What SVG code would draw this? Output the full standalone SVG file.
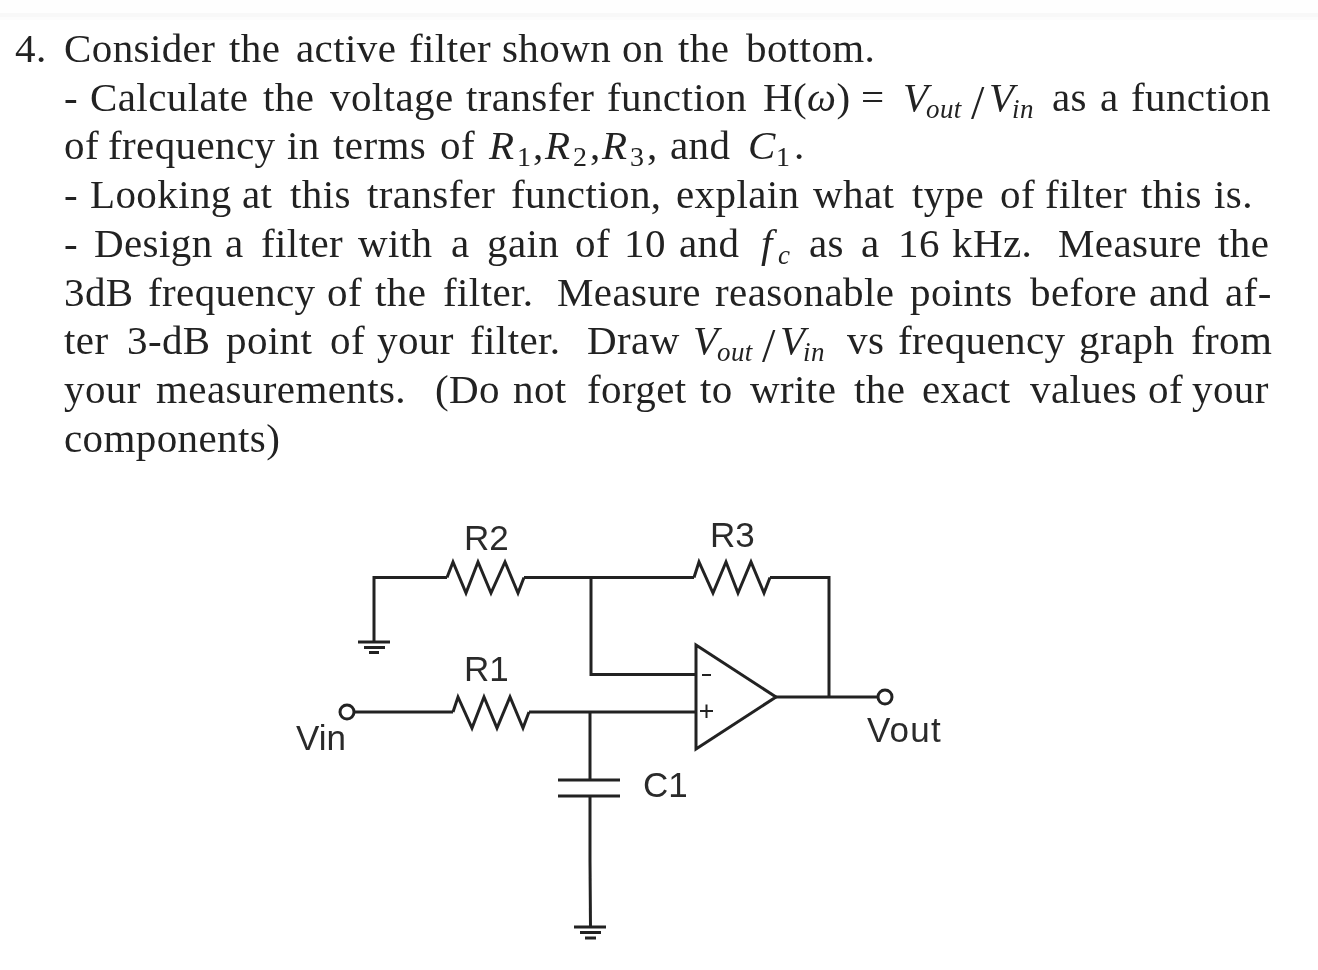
<svg xmlns="http://www.w3.org/2000/svg" width="1318" height="970" viewBox="0 0 1318 970">
<defs>
<style>
.t{font-family:"Liberation Serif","Times New Roman",serif;font-size:41px;fill:#222;letter-spacing:.4px}
.i{font-style:italic}
.s{font-size:27px;font-style:italic}
.n{font-size:28px}
.v{font-size:48px}
.l{font-family:"Liberation Sans",Arial,sans-serif;font-size:35px;fill:#2a2a2a}
.w{fill:none;stroke:#222;stroke-width:3;stroke-linejoin:miter}
.p{fill:none;stroke:#222;stroke-width:2}
.o{fill:#fff;stroke:#222;stroke-width:3}
</style>
<filter id="b" x="-2%" y="-2%" width="104%" height="104%"><feGaussianBlur stdDeviation="0.6"/></filter>
</defs>
<rect width="1318" height="970" fill="#fff"/>
<rect y="0" width="1318" height="13" fill="#fefefe"/>
<rect y="13" width="1318" height="4" fill="#f8f8f8"/>
<rect y="17" width="1318" height="3" fill="#fcfcfc"/>
<g filter="url(#b)">
<g id="problem-text">
<text class="t" y="62"><tspan x="15">4. </tspan><tspan x="64">Consider </tspan><tspan x="229">the </tspan><tspan x="296">active </tspan><tspan x="409">filter </tspan><tspan x="502">shown </tspan><tspan x="622">on </tspan><tspan x="678">the </tspan><tspan x="746">bottom.</tspan></text>
<text class="t" y="110.7"><tspan x="64">- </tspan><tspan x="90">Calculate </tspan><tspan x="263">the </tspan><tspan x="330">voltage </tspan><tspan x="466">transfer </tspan><tspan x="607">function </tspan><tspan x="763">H(</tspan><tspan class="i">ω</tspan><tspan>) </tspan><tspan x="861">= </tspan><tspan x="903" class="i">V</tspan><tspan x="926" class="s" dy="7">out</tspan><tspan x="971" class="v" dy="1">/</tspan><tspan x="989" class="i" dy="-8">V</tspan><tspan x="1012" class="s" dy="7">in</tspan><tspan x="1052" dy="-7">as </tspan><tspan x="1100">a </tspan><tspan x="1131">function</tspan></text>
<text class="t" y="159.4"><tspan x="64">of </tspan><tspan x="108">frequency </tspan><tspan x="287">in </tspan><tspan x="333">terms </tspan><tspan x="440">of </tspan><tspan x="489" class="i">R</tspan><tspan x="517" class="n" dy="7">1</tspan><tspan x="533" dy="-7">,</tspan><tspan x="545" class="i">R</tspan><tspan x="573" class="n" dy="7">2</tspan><tspan x="590" dy="-7">,</tspan><tspan x="602" class="i">R</tspan><tspan x="630" class="n" dy="7">3</tspan><tspan x="647" dy="-7">, </tspan><tspan x="670">and </tspan><tspan x="748" class="i">C</tspan><tspan x="776" class="n" dy="7">1</tspan><tspan x="794" dy="-7">.</tspan></text>
<text class="t" y="208"><tspan x="64">- </tspan><tspan x="90">Looking </tspan><tspan x="242">at </tspan><tspan x="290">this </tspan><tspan x="367">transfer </tspan><tspan x="511">function, </tspan><tspan x="676">explain </tspan><tspan x="813">what </tspan><tspan x="912">type </tspan><tspan x="1000">of </tspan><tspan x="1045">filter </tspan><tspan x="1141">this </tspan><tspan x="1214">is.</tspan></text>
<text class="t" y="256.8"><tspan x="64">- </tspan><tspan x="94">Design </tspan><tspan x="225">a </tspan><tspan x="261">filter </tspan><tspan x="358">with </tspan><tspan x="451">a </tspan><tspan x="487">gain </tspan><tspan x="575">of </tspan><tspan x="624">10 </tspan><tspan x="679">and </tspan><tspan x="761" class="i">f</tspan><tspan x="778" class="s" dy="7">c</tspan><tspan x="809" dy="-7">as </tspan><tspan x="861">a </tspan><tspan x="898">16 </tspan><tspan x="952">kHz. </tspan><tspan x="1058">Measure </tspan><tspan x="1218">the</tspan></text>
<text class="t" y="305.5"><tspan x="64">3dB </tspan><tspan x="148">frequency </tspan><tspan x="327">of </tspan><tspan x="375">the </tspan><tspan x="443">filter. </tspan><tspan x="557">Measure </tspan><tspan x="715">reasonable </tspan><tspan x="910">points </tspan><tspan x="1030">before </tspan><tspan x="1149">and </tspan><tspan x="1225">af-</tspan></text>
<text class="t" y="354"><tspan x="64">ter </tspan><tspan x="127">3-dB </tspan><tspan x="226">point </tspan><tspan x="330">of </tspan><tspan x="377">your </tspan><tspan x="470">filter. </tspan><tspan x="587">Draw </tspan><tspan x="693" class="i">V</tspan><tspan x="717" class="s" dy="7">out</tspan><tspan x="762" class="v" dy="1">/</tspan><tspan x="780" class="i" dy="-8">V</tspan><tspan x="803" class="s" dy="7">in</tspan><tspan x="847" dy="-7">vs </tspan><tspan x="898">frequency </tspan><tspan x="1079">graph </tspan><tspan x="1191">from</tspan></text>
<text class="t" y="403"><tspan x="64">your </tspan><tspan x="156">measurements. </tspan><tspan x="435">(Do </tspan><tspan x="513">not </tspan><tspan x="587">forget </tspan><tspan x="700">to </tspan><tspan x="750">write </tspan><tspan x="854">the </tspan><tspan x="922">exact </tspan><tspan x="1030">values </tspan><tspan x="1148">of </tspan><tspan x="1192">your</tspan></text>
<text class="t" x="64" y="451.7">components)</text>
</g>
<g id="connectors">
<path class="w" d="M374 642V577.5H447"/>
<path class="w" d="M524 577.5H694"/>
<path class="w" d="M770 577.5H829V697"/>
<path class="w" d="M591 577.5V674.5H696"/>
<path class="w" d="M354 712H453"/>
<path class="w" d="M529 712H696"/>
<path class="w" d="M590 712V780"/>
<path class="w" d="M590 796V861L590.500 927"/>
<path class="w" d="M776 697H878"/>
</g>
<g id="R2"><path class="w" d="M447 577.500L453 562L466 593L478 562L491 593L505 562L518 593L524 577.500"/><text class="l" x="464" y="550">R2</text></g>
<g id="R3"><path class="w" d="M694 577.500L699 562L713 593L726 562L738 593L751 562L764 593L770 577.500"/><text class="l" x="710" y="547">R3</text></g>
<g id="R1"><path class="w" d="M453 712L458 697L472 728L484 697L497 728L510 697L523 728L529 712"/><text class="l" x="464" y="681">R1</text></g>
<g id="C1"><path class="w" d="M558 780H620M558 796H620"/><text class="l" x="643" y="797">C1</text></g>
<g id="opamp"><path class="w" d="M696 645L776 697L696 749Z"/><path class="p" d="M702 675H711M700 711H713M706.500 704.500V718"/></g>
<g id="ground-left"><path class="w" d="M358 642H390M364 647.500H385M369 652.500H379"/></g>
<g id="ground-bottom"><path class="w" d="M574 927H606M580 932.500H601M585 938H596"/></g>
<g id="Vin"><circle class="o" cx="347" cy="712" r="7"/><text class="l" x="296" y="750">Vin</text></g>
<g id="Vout"><circle class="o" cx="885" cy="697" r="7"/><text class="l" x="867" y="742" style="letter-spacing:1.200px">Vout</text></g>
</g>
</svg>
